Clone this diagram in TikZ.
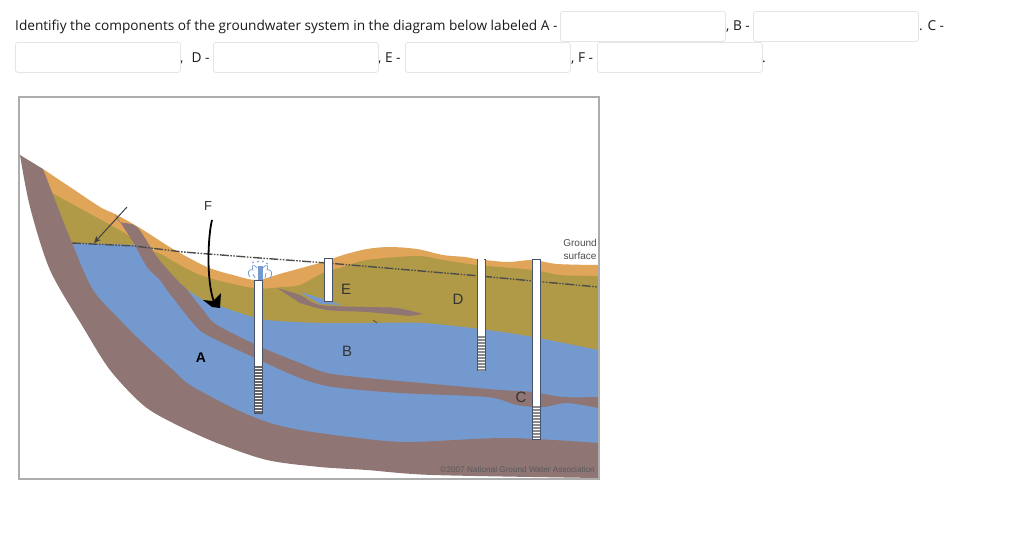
\documentclass[tikz,border=0pt]{standalone}
\usepackage{fontspec}
\setmainfont{Open Sans}
\newfontfamily\labelfont{Liberation Sans}
\usepackage{xcolor}
\usetikzlibrary{arrows.meta,positioning}
\definecolor{sandcol}{HTML}{E0A558}
\definecolor{oilcol}{HTML}{B09A48}
\definecolor{watercol}{HTML}{7499CE}
\definecolor{claycol}{HTML}{8F7574}
\definecolor{pipecol}{HTML}{46536A}

\begin{document}
\begin{tikzpicture}[
    x=1pt, y=-1pt,
    line/.style={font=\fontsize{13.65}{16}\selectfont, inner sep=0pt, anchor=base west, text=black!90},
    field/.style={draw=black!10, line width=0.8pt, rounded corners=2.5pt, fill=white, anchor=north west, minimum width=165pt, minimum height=30pt, inner sep=0pt},
    letter/.style={font=\labelfont\fontsize{15}{17}\selectfont, text=black!80, inner sep=0pt},
    watertable/.style={line width=1.4pt, black!70, dash pattern=on 9pt off 1.5pt on 1.5pt off 1.5pt on 1.5pt off 1.5pt},
    wellpipe/.style={draw=pipecol, line width=1pt, fill=white},
    fountain/.style={watercol, line width=0.7pt}
]
    \useasboundingbox (0,0) rectangle (1024,538);

    % Question text
    \node[line] (question) at (15,30) {Identifiy the components of the groundwater system in the diagram below labeled A -};
    \node[line] (labelb) at (726,30) {, B -};
    \node[line] (labelc) at (919,30) {. C -};
    \node[line] (labeld) at (180,62) {,\,\, D -};
    \node[line] (labele) at (378,62) {, E -};
    \node[line] (labelf) at (571,62) {, F -};
    \node[line] (stop) at (762,62) {.};

    % Answer fields
    \node[field] (fielda) at (560,11) {};
    \node[field] (fieldb) at (753,11) {};
    \node[field] (fieldc) at (15,42) {};
    \node[field] (fieldd) at (213,42) {};
    \node[field] (fielde) at (405,42) {};
    \node[field] (fieldf) at (597,42) {};

    % Ground layers
    \fill[sandcol] (43,169) -- plot[smooth, tension=.5] coordinates {(43,169) (67,185) (100,207) (115,214) (140,228) (173,249) (207,267) (233,275) (257,280) (283,273) (323,262) (343,255) (367,249) (390,247) (417,249) (443,255) (465,257) (477,259) (507,262) (533,260) (557,264) (598,265)} -- (598,440) -- (300,440) -- (100,330) -- (50,220) -- cycle;
    \fill[oilcol] (52,193) -- (125,233) -- (140,246) -- (72,243) -- cycle;
    \fill[oilcol] (150,250) -- plot[smooth, tension=.5] coordinates {(163,255) (200,275) (253,288) (283,287) (300,285) (323,273) (343,267) (367,260) (417,256) (443,260) (477,265) (533,270) (560,275) (598,276)} -- (598,360) -- (200,360) -- cycle;
    \fill[watercol] (72,243) -- (137,245) -- (190,292) -- plot[smooth, tension=.5] coordinates {(203,300) (240,313) (267,320) (320,323) (367,323) (423,323) (487,330) (533,337) (598,350)} -- (598,450) -- (300,445) -- (150,370) -- (105,330) -- cycle;

    % Clay and rock
    \fill[watercol] plot[smooth, tension=.5] coordinates {(300,292) (323,299) (342,305)} -- (320,304) -- cycle;
    \fill[claycol] plot[smooth, tension=.5] coordinates {(277,288) (300,295) (320,305) (367,307) (397,308) (423,314)} -- plot[smooth, tension=.5] coordinates {(410,316) (367,312) (327,310) (300,303)} -- cycle;
    \fill[claycol] plot[smooth, tension=.5] coordinates {(115,214) (120,222) (137,227) (157,257) (177,280) (187,290) (203,310) (217,325) (263,348) (300,363) (327,373) (367,378) (433,384) (500,390) (533,392) (563,397) (598,397)} -- plot[smooth, tension=.5] coordinates {(598,408) (567,403) (543,407) (517,405) (487,397) (400,393) (333,387) (300,378) (253,357) (207,335) (193,323) (167,290) (160,280) (147,267) (135,245)} -- cycle;
    \fill[claycol] plot[smooth, tension=.5] coordinates {(20,155) (30,207) (50,270) (83,327) (110,370) (143,405) (173,423) (217,443) (267,460) (320,467) (367,470) (433,475) (598,478)} -- plot[smooth, tension=.5] coordinates {(598,443) (507,438) (407,442) (350,437) (300,430) (267,422) (233,408) (190,385) (173,370) (143,343) (120,320) (93,290) (72,243) (43,169)} -- cycle;
    \draw[black!70, line width=0.7pt] (373,320) -- (377,323);

    % Water table
    \draw[watertable] (72,243) -- (134,246) -- (183,252) -- (260,258) -- (327,263) -- (480,276) -- (533,281) -- (598,287);

    % Wells
    \foreach \wx/\wtop/\wbot in {254/280/413, 324/258/301, 477/259/370, 532/259/439}{
        \draw[wellpipe] (\wx,\wtop) rectangle (\wx+8,\wbot);
    }
    \fill[white] (477.6,257) rectangle (484.4,262);
    \foreach \wx/\wtop/\wbot/\wshade in {254/366/413/60, 477/336/370/45, 532/406/439/45}{
        \foreach \wy in {\wtop,...,\wbot}{
            \pgfmathparse{int(mod(\wy-\wtop,3))}
            \ifnum\pgfmathresult=1
                \draw[black!\wshade, line width=1.2pt] (\wx+0.5,\wy) -- (\wx+7.5,\wy);
            \fi
        }
    }

    % Fountain
    \fill[watercol] (257.5,266) rectangle (262.5,280);
    \draw[fountain] (257,268) .. controls (253,263) and (251,266) .. (253,270) .. controls (248,268) and (247,274) .. (250,277);
    \draw[fountain] (263,268) .. controls (267,263) and (269,266) .. (267,270) .. controls (272,268) and (273,275) .. (270,278);
    \draw[fountain] (252,263) -- (254,262) (257,262) -- (259,261) (262,262) -- (264,261) (266,263) -- (268,264);
    \draw[fountain] (253,274) -- (255,278);
    \draw[fountain] (266,273) -- (265,278);

    % Arrows
    \coordinate (rainstart) at (127,207);
    \coordinate (rainend) at (94,243);
    \draw[-{Stealth[length=7pt,width=6pt]}, line width=1pt, black!75] (rainstart) -- (rainend);
    \coordinate (fstart) at (212,220);
    \coordinate (fend) at (214,302);
    \draw[line width=1.8pt, black] (fstart) .. controls (208,236) and (206,280) .. (fend);
    \fill[black] (203,300) -- (213,301) -- (221,293) -- (220,308) -- (212,307) -- cycle;

    % Letters
    \node[letter, font=\labelfont\fontsize{13}{15}\selectfont] (f) at (208,206) {F};
    \node[letter, font=\labelfont\bfseries\fontsize{14}{16}\selectfont, text=black] (a) at (201,358) {A};
    \node[letter] (e) at (346,289) {E};
    \node[letter] (d) at (458,299) {D};
    \node[letter] (b) at (347,351) {B};
    \node[letter] (c) at (521,397) {C};
    \node[letter, font=\labelfont\fontsize{10}{12}\selectfont, text=black!70] (ground) at (580,243) {Ground};
    \node[letter, font=\labelfont\fontsize{10}{12}\selectfont, text=black!70] (surface) at (580,256) {surface};
    \node[letter, font=\labelfont\fontsize{8.2}{10}\selectfont, text=black!65, anchor=east] (credit) at (595,470) {©2007 National Ground Water Association};

    % Frame
    \draw[black!32, line width=2pt] (18.5,96.5) rectangle (598.5,478.5);
\end{tikzpicture}
\end{document}
